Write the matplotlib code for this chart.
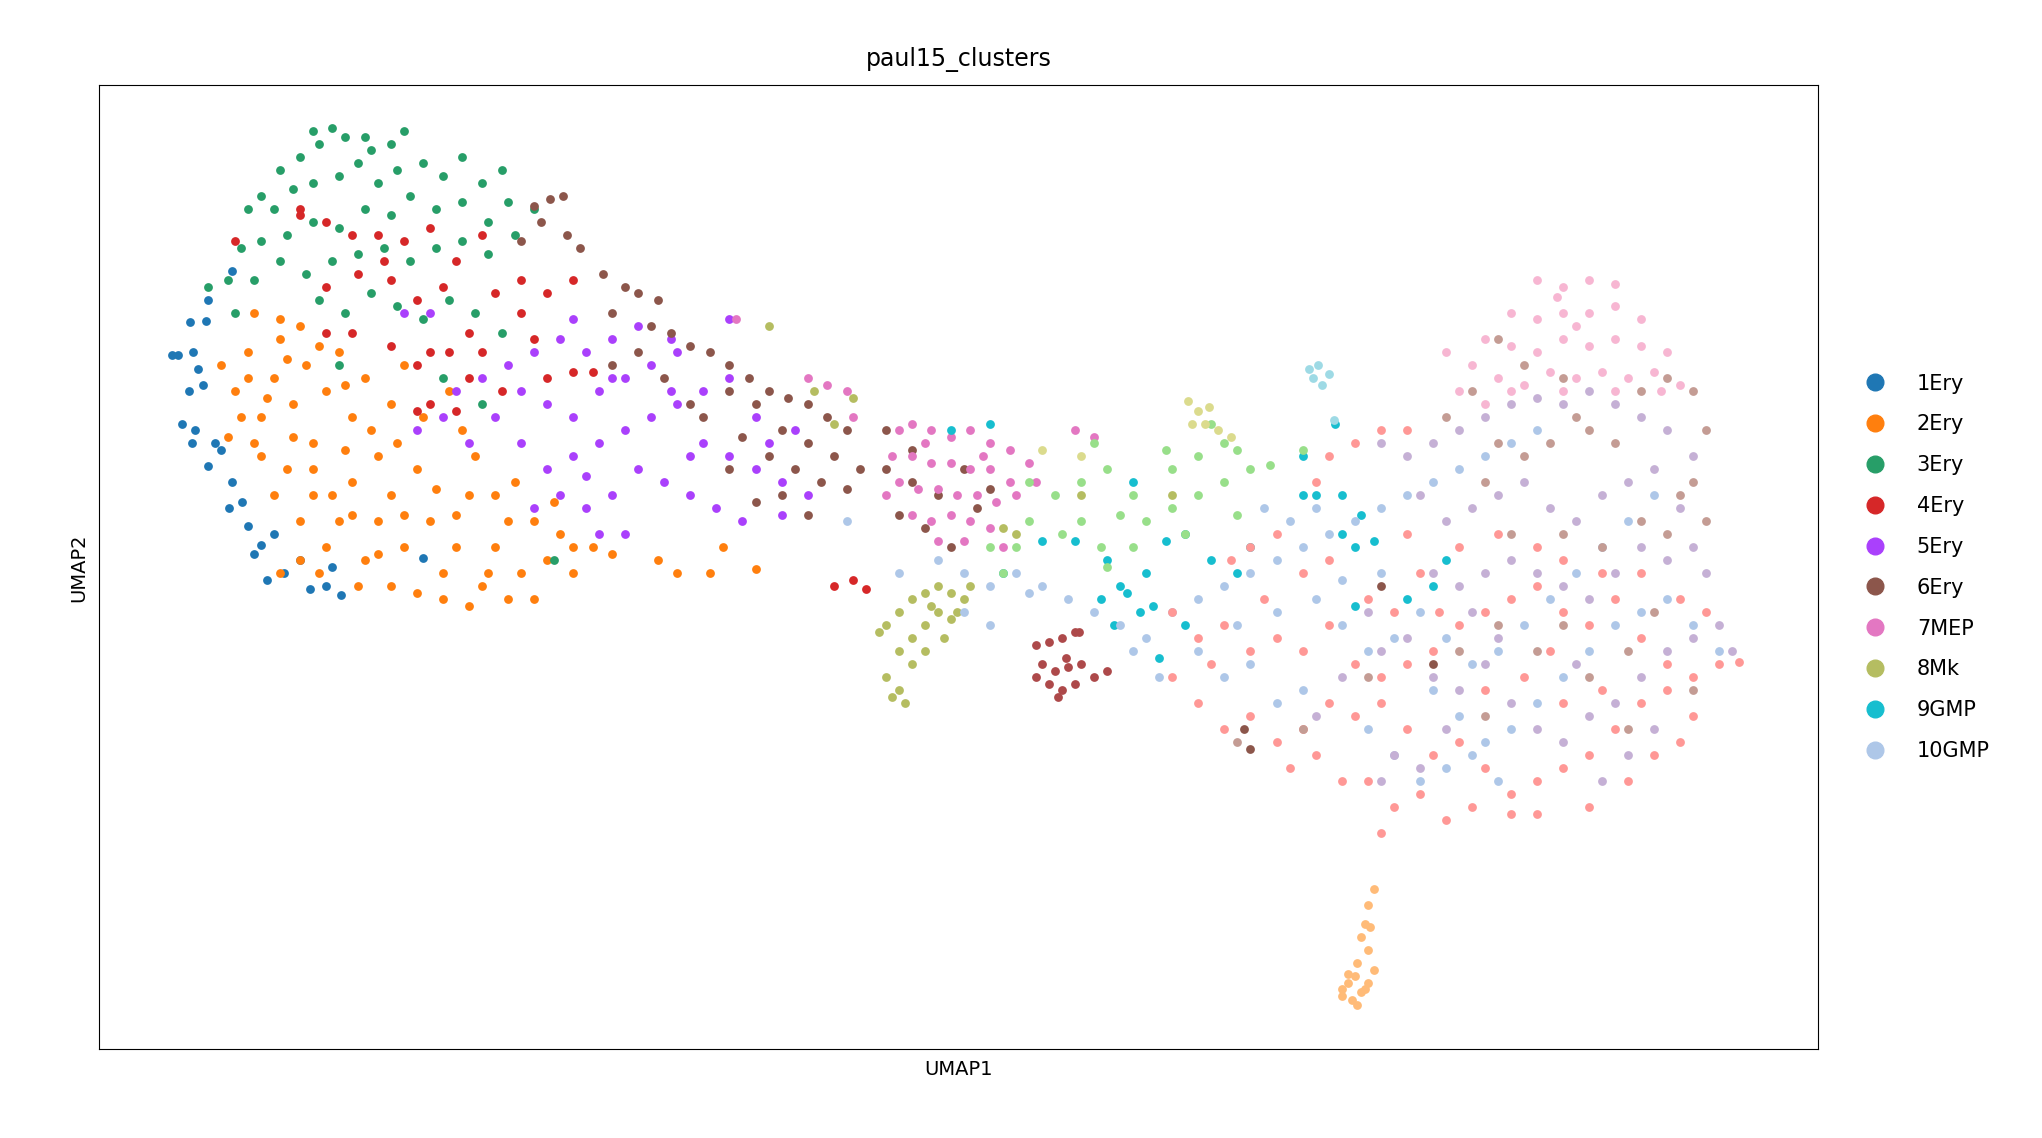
import matplotlib
matplotlib.use("Agg")
import matplotlib.pyplot as plt
from matplotlib.lines import Line2D

# approximate embedding coordinates (y grows downward)
clusters = ["1Ery", "2Ery", "3Ery", "4Ery", "5Ery", "6Ery", "7MEP", "8Mk", "9GMP", "10GMP",
            "11DC", "12Baso", "13Baso", "14Mo", "15Mo", "16Neu", "17Neu", "18Eos", "19Lymph"]
colors = ["#1f77b4", "#ff7f0e", "#279e68", "#d62728", "#aa40fc", "#8c564b", "#e377c2", "#b5bd61",
          "#17becf", "#aec7e8", "#ffbb78", "#98df8a", "#ff9896", "#c5b0d5", "#c49c94", "#f7b6d2",
          "#dbdb8d", "#9edae5", "#ad494a"]

ery1 = [(137,272),(148,270),(152,283),(145,300),(156,295),(160,230),(158,246),(146,247),(178,208),(150,330),(147,340),(165,340),(160,358),(170,345),(178,370),(186,385),(176,390),(190,404),(200,418),(205,445),(218,440),(230,430),(238,452),(250,450),(262,457),(255,435),(325,428),(210,410),(195,425),(140,325),(132,272)]
ery2 = [(170,280),(180,300),(190,270),(200,320),(210,290),(215,260),(225,310),(235,280),(240,340),(250,300),(260,270),(270,320),(280,290),(290,350),(300,310),(310,280),(200,350),(210,380),(220,360),(230,400),(240,380),(250,420),(260,400),(270,370),(280,430),(290,400),(300,380),(310,420),(320,360),(330,400),(340,440),(350,420),(360,380),(370,450),(380,420),(390,400),(400,440),(410,460),(420,430),(430,410),(440,440),(455,420),(470,425),(300,450),(320,455),(340,460),(360,465),(275,450),(245,440),(230,430),(195,340),(185,320),(175,335),(215,440),(265,345),(285,330),(305,340),(325,320),(345,300),(355,330),(365,350),(380,380),(395,370),(410,400),(425,385),(440,420),(390,460),(375,440),(350,395),(335,375),(310,395),(290,425),(270,395),(255,380),(240,360),(225,335),(205,305),(190,290),(220,275),(245,265),(265,295),(195,240),(215,245),(230,250),(505,430),(520,440),(555,420),(545,440),(580,437)]
ery3 = [(255,98),(265,105),(245,110),(280,105),(300,110),(310,100),(230,120),(215,130),(200,150),(190,160),(210,160),(225,145),(240,140),(260,135),(275,125),(290,140),(305,130),(325,125),(340,135),(355,120),(370,140),(385,130),(390,155),(375,170),(355,155),(335,160),(315,150),(300,165),(280,160),(260,175),(240,170),(220,180),(200,185),(185,190),(175,215),(160,220),(195,215),(215,200),(235,210),(255,200),(275,195),(295,190),(315,200),(335,190),(355,185),(375,195),(395,180),(410,160),(245,230),(265,240),(285,225),(305,235),(325,245),(345,230),(365,240),(385,255),(180,240),(260,280),(340,290),(370,310),(425,430),(240,100),(285,115)]
ery4 = [(180,185),(230,165),(250,170),(270,180),(290,180),(310,185),(330,175),(350,200),(370,180),(400,215),(420,225),(440,215),(250,220),(275,210),(300,215),(320,230),(340,220),(360,255),(380,225),(400,240),(410,260),(300,265),(320,280),(345,270),(370,270),(295,200),(330,270),(385,300),(420,290),(440,285),(360,290),(270,255),(250,255),(455,285),(330,310),(320,315),(350,315),(640,450),(655,445),(665,452),(230,160)]
ery5 = [(320,330),(340,320),(360,340),(380,320),(400,300),(420,310),(440,320),(460,300),(480,290),(500,280),(520,270),(540,300),(560,290),(580,320),(400,340),(420,360),(440,350),(460,340),(480,330),(500,320),(520,310),(540,340),(560,350),(580,360),(600,370),(620,380),(430,380),(450,390),(470,380),(490,360),(510,370),(530,380),(550,390),(570,400),(600,395),(460,410),(480,410),(350,300),(370,290),(390,280),(410,270),(430,260),(450,270),(470,260),(490,250),(515,260),(530,350),(590,340),(610,330),(470,290),(515,300),(310,240),(330,240),(560,245),(440,245),(450,365),(410,390)]
ery6 = [(410,158),(422,152),(432,150),(415,170),(435,180),(445,190),(400,185),(463,210),(480,220),(490,225),(505,230),(470,240),(500,250),(515,255),(530,265),(545,270),(560,280),(575,290),(590,300),(605,305),(620,310),(635,320),(650,330),(560,300),(580,310),(600,330),(620,340),(640,350),(660,360),(570,335),(590,350),(610,360),(630,370),(650,375),(560,360),(580,385),(600,380),(620,395),(530,310),(540,320),(510,290),(490,270),(470,280),(680,360),(700,370),(720,380),(740,360),(760,375),(690,395),(710,405),(730,420),(750,390),(700,345),(680,330),(955,560),(960,575),(1060,450),(1100,510)]
mep7 = [(690,330),(700,325),(715,330),(730,335),(745,330),(760,340),(775,345),(790,355),(685,350),(700,350),(715,355),(730,355),(745,360),(760,360),(775,370),(690,370),(705,375),(720,375),(735,380),(750,380),(765,385),(780,380),(700,395),(715,400),(730,395),(745,400),(760,405),(720,415),(740,415),(680,380),(795,370),(770,420),(565,245),(620,290),(635,295),(650,300),(825,330),(840,335),(655,320),(710,340),(755,350)]
mk8 = [(680,480),(690,470),(700,460),(710,455),(720,450),(730,455),(740,460),(745,450),(700,490),(710,480),(720,470),(730,475),(690,500),(700,510),(710,500),(680,520),(690,530),(695,540),(685,535),(675,485),(725,490),(715,465),(735,470),(640,325),(625,300),(655,305),(770,405),(780,410),(590,250),(830,380),(900,380)]
gmp9 = [(730,330),(760,325),(770,440),(800,415),(825,415),(850,430),(860,450),(875,470),(885,465),(865,455),(895,415),(910,410),(930,430),(950,440),(960,420),(1000,380),(1010,380),(1030,380),(1045,395),(1040,420),(1055,415),(1040,465),(1080,460),(1100,450),(1110,430),(1030,410),(845,460),(880,440),(855,480),(870,370),(1025,325),(1000,350),(890,505),(910,480)]
gmp10 = [(650,400),(690,440),(720,430),(740,440),(760,450),(780,440),(800,450),(820,460),(840,470),(860,480),(880,490),(900,470),(920,460),(940,450),(960,440),(980,430),(1000,420),(1020,410),(1040,400),(1060,390),(1080,380),(1100,370),(1120,360),(1140,350),(1160,340),(1180,330),(870,500),(890,520),(920,500),(950,480),(980,470),(1010,460),(1030,480),(1050,500),(1070,490),(1090,470),(1110,490),(1130,510),(1150,500),(1170,480),(1190,460),(1210,440),(1230,420),(1250,400),(1270,380),(1100,530),(1120,550),(1140,570),(1160,560),(1180,540),(1200,520),(1220,500),(1240,480),(1260,470),(1280,460),(1300,480),(1320,500),(1050,560),(1070,580),(1090,600),(1110,590),(1130,580),(1150,600),(1000,530),(980,540),(960,510),(940,520),(990,400),(970,390),(1010,390),(1030,445),(1060,440),(740,470),(760,480),(790,455)]
dc11 = [(1055,683),(1050,695),(1048,710),(1045,720),(1050,730),(1042,740),(1055,745),(1040,750),(1035,755),(1050,755),(1030,760),(1045,762),(1038,768),(1030,765),(1042,772),(1048,760),(1035,748),(1052,712)]
baso12 = [(790,370),(810,380),(830,370),(850,360),(870,380),(830,400),(815,410),(845,420),(860,395),(880,400),(900,390),(920,380),(940,370),(960,360),(975,357),(900,360),(920,350),(940,340),(930,325),(950,345),(895,345),(910,410),(840,340),(850,435),(790,400),(780,420),(760,420),(770,440),(1000,345),(950,395),(870,420)]
baso13 = [(900,470),(920,490),(940,480),(960,500),(980,490),(1000,500),(1020,480),(1040,510),(1060,520),(1080,510),(1100,500),(1120,480),(1140,470),(1160,460),(1180,450),(1200,470),(1220,480),(1240,460),(1260,490),(1280,510),(1300,520),(1320,510),(1335,508),(920,540),(940,560),(960,550),(980,570),(1000,560),(1020,540),(1040,550),(1060,540),(1080,560),(1100,580),(1120,570),(1140,590),(1160,610),(1180,600),(1200,590),(1220,580),(1240,560),(1260,540),(1280,530),(1300,550),(1050,600),(1070,620),(1090,610),(1110,630),(1130,620),(1060,640),(1160,625),(1180,625),(1220,620),(1010,370),(1020,350),(1040,340),(1060,330),(1080,330),(960,420),(980,410),(1000,440),(1020,430),(1050,460),(1070,470),(1090,440),(1120,420),(1150,410),(1180,420),(1200,430),(1230,440),(1260,440),(1290,460),(1310,470),(1270,580),(1250,600),(1290,570),(1010,580),(990,590),(1030,600),(900,520),(930,510),(945,430),(970,460),(1140,530),(1170,520),(1200,540),(1230,530),(1105,470),(1080,410),(1190,500)]
mo14 = [(1060,340),(1080,350),(1100,340),(1120,330),(1140,320),(1160,310),(1180,305),(1200,310),(1220,300),(1240,310),(1260,320),(1280,330),(1300,350),(1090,380),(1110,400),(1130,390),(1150,380),(1170,370),(1190,390),(1210,400),(1230,380),(1250,370),(1270,360),(1290,390),(1100,440),(1120,450),(1140,440),(1160,430),(1180,440),(1200,450),(1220,460),(1240,440),(1260,420),(1280,430),(1310,440),(1060,500),(1080,490),(1100,520),(1120,530),(1140,510),(1160,540),(1180,560),(1200,570),(1220,550),(1240,540),(1260,520),(1280,500),(1300,490),(1320,480),(1070,580),(1090,590),(1110,560),(1060,600),(1230,600),(1250,580),(1270,560),(1130,470),(1150,490),(1210,510),(1050,470),(1030,520),(1010,550),(1300,420),(1330,500)]
mo15 = [(1110,320),(1130,300),(1150,340),(1170,350),(1190,340),(1200,290),(1210,320),(1220,330),(1240,340),(1260,300),(1280,290),(1300,300),(1310,330),(1300,370),(1290,380),(1310,400),(1150,260),(1170,280),(1140,370),(1160,410),(1200,410),(1230,420),(1260,400),(1280,410),(1050,520),(1180,500),(1200,480),(1220,520),(1250,500),(1270,470),(1300,530),(1250,560),(950,570),(1120,500),(1140,550),(1000,560),(1150,480)]
neu16 = [(1180,215),(1200,220),(1220,215),(1240,218),(1160,240),(1180,245),(1200,240),(1220,240),(1240,235),(1260,245),(1140,260),(1160,265),(1180,270),(1200,260),(1220,265),(1240,260),(1260,265),(1280,270),(1130,280),(1150,290),(1170,295),(1190,285),(1210,290),(1230,285),(1250,290),(1270,285),(1290,295),(1120,300),(1140,310),(1160,300),(1200,300),(1240,300),(1195,228),(1210,250),(1275,300),(1110,270)]
neu17 = [(912,308),(920,315),(928,312),(925,325),(915,325),(935,330),(945,335),(800,345),(830,350)]
eos18 = [(1005,283),(1012,280),(1020,287),(1015,295),(1008,290),(1024,322)]
lymph19 = [(795,495),(805,493),(815,490),(825,485),(800,510),(810,515),(820,512),(830,510),(805,525),(815,530),(825,525),(840,520),(850,515),(795,520),(812,535),(828,485),(818,505)]

points = [ery1, ery2, ery3, ery4, ery5, ery6, mep7, mk8, gmp9, gmp10, dc11, baso12,
          baso13, mo14, mo15, neu16, neu17, eos18, lymph19]

fig = plt.figure(figsize=(20.42, 11.38), dpi=100)
ax = fig.add_axes([0.0485, 0.078, 0.842, 0.847])
for name, col, pts in zip(clusters, colors, points):
    xs = [p[0] for p in pts]
    ys = [p[1] for p in pts]
    ax.scatter(xs, ys, s=40, color=col, linewidths=0, label=name)

ax.set_xlim(76, 1396)
ax.set_ylim(806, 65)
ax.set_xticks([])
ax.set_yticks([])
ax.set_xlabel("UMAP1", fontsize=14, labelpad=8)
ax.set_ylabel("UMAP2", fontsize=14, labelpad=8)
ax.set_title("paul15_clusters", fontsize=17, pad=14)

# only the first legend column is visible in the reference
handles = [Line2D([], [], ls="", marker="o", markersize=12, color=c) for c in colors[:10]]
ax.legend(handles, clusters[:10], loc="center left", bbox_to_anchor=(1.01, 0.5),
          frameon=False, fontsize=15, labelspacing=1.0, handletextpad=1.0)

fig.savefig("out.png")
